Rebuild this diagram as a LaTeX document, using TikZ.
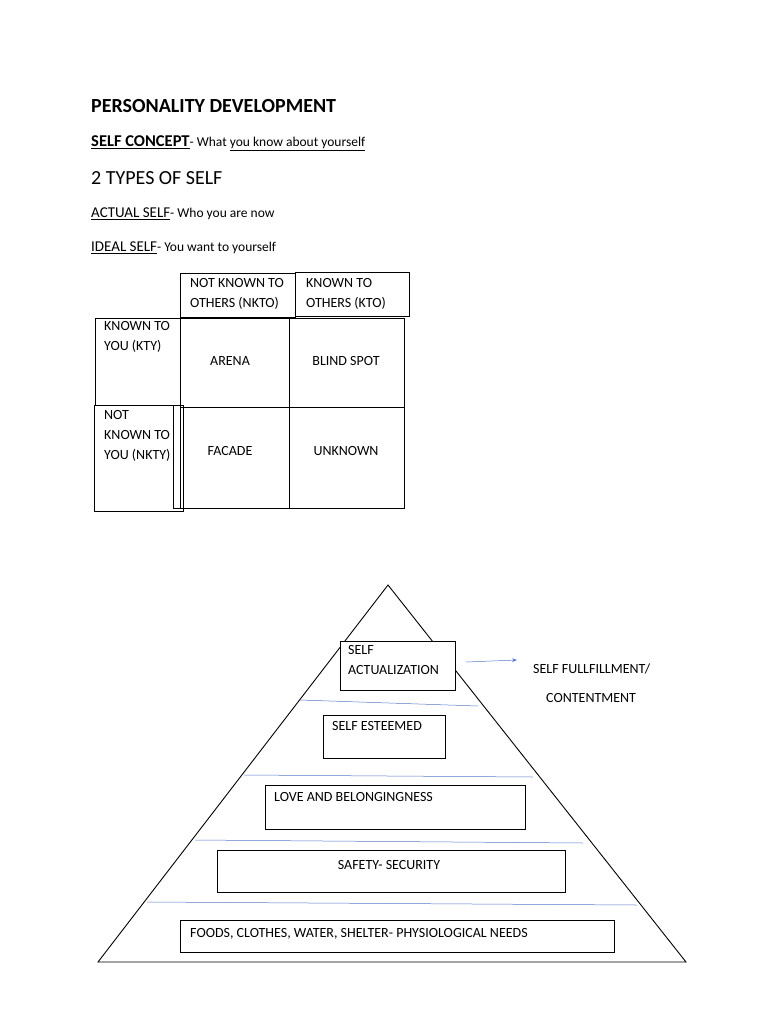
\documentclass[tikz,border=0pt]{standalone}
\usepackage{fontspec}
\setmainfont{Carlito}
\usetikzlibrary{arrows.meta}
\begin{document}
\begin{tikzpicture}[x=1pt,y=-1pt,
  bx/.style={draw,line width=0.8pt},
  sm/.style={font=\fontsize{13.5}{16}\selectfont,anchor=west,inner sep=0pt},
  cl/.style={font=\fontsize{14}{20}\selectfont,inner sep=0pt,align=left},
  bl/.style={draw={rgb,255:red,90;green,120;blue,200},line width=0.5pt}]
\useasboundingbox (0,0) rectangle (768,1024);
\fill[white] (0,0) rectangle (768,1024);
\node[anchor=west,inner sep=0pt,font=\fontsize{20}{22}\selectfont\bfseries] (t1) at (91,106) {PERSONALITY DEVELOPMENT};
\node[sm] (t2) at (91,143) {{\fontsize{16.5}{18}\selectfont\bfseries\underline{SELF CONCEPT}}- What \underline{you know about yourself}};
\node[anchor=west,inner sep=0pt,font=\fontsize{20}{22}\selectfont] (t3) at (91,178) {2 TYPES OF SELF};
\node[sm] (t4) at (91,214) {{\fontsize{15}{17}\selectfont\underline{ACTUAL SELF}}- Who you are now};
\node[sm] (t5) at (91,248) {{\fontsize{15}{17}\selectfont\underline{IDEAL SELF}}- You want to yourself};
% table
\draw[bx] (180,273) rectangle (295,317);
\node[cl,anchor=north west] (h1) at (190,278) {NOT KNOWN TO\\OTHERS (NKTO)};
\draw[bx] (295,272) rectangle (409,316);
\node[cl,anchor=north west] (h2) at (306,278) {KNOWN TO\\OTHERS (KTO)};
\draw[bx] (180,318) rectangle (404,508);
\draw[bx] (180,407) -- (404,407);
\draw[bx] (289,318) -- (289,508);
\draw[bx] (95,318) rectangle (180,405);
\draw[bx] (94,405) rectangle (183,511);
\draw[bx] (173,405) rectangle (183,508);
\node[cl,anchor=north west] (r1) at (104,321) {KNOWN TO\\YOU (KTY)};
\node[cl,anchor=north west] (r2) at (104,410) {NOT\\KNOWN TO\\YOU (NKTY)};
\node[cl] (c1) at (230,361) {ARENA};
\node[cl] (c2) at (346,361) {BLIND SPOT};
\node[cl] (c3) at (230,451) {FACADE};
\node[cl] (c4) at (346,451) {UNKNOWN};
% pyramid
\draw[line width=0.9pt] (388,585) -- (98,962) -- (686,962) -- cycle;
\draw[bl] (300,700) -- (478,706);
\draw[bl] (244,775) -- (533,777);
\draw[bl] (195,840) -- (583,843);
\draw[bl] (147,902) -- (637,905);
\draw[bx,fill=white] (340,641) rectangle (455,690);
\node[cl,anchor=north west] (p1) at (348,645) {SELF\\ACTUALIZATION};
\draw[bx] (323,715) rectangle (445,758);
\node[cl,anchor=north west] (p2) at (332,721) {SELF ESTEEMED};
\draw[bx] (265,785) rectangle (525,829);
\node[cl,anchor=north west] (p3) at (274,792) {LOVE AND BELONGINGNESS};
\draw[bx] (217,850) rectangle (565,892);
\node[cl] (p4) at (389,865) {SAFETY- SECURITY};
\draw[bx] (180,920) rectangle (614,952);
\node[cl,anchor=west] (p5) at (190,934) {FOODS, CLOTHES, WATER, SHELTER- PHYSIOLOGICAL NEEDS};
\coordinate (a1) at (466,662);
\coordinate (a2) at (517,660);
\draw[bl,-{Stealth[length=5pt]}] (a1) -- (a2);
\node[cl,anchor=west] (s1) at (533,669) {SELF FULLFILLMENT/};
\node[cl,anchor=west] (s2) at (546,698) {CONTENTMENT};
\end{tikzpicture}
\end{document}
